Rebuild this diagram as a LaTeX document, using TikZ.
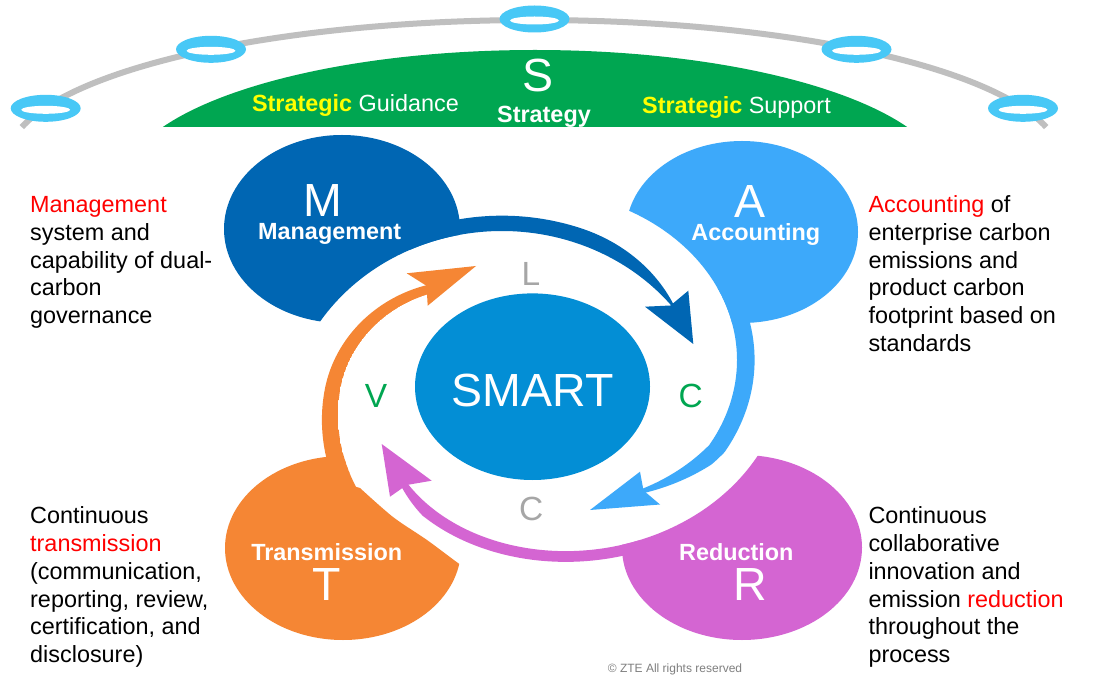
\documentclass[tikz,border=0pt]{standalone}
\usepackage{fontspec}
\setmainfont{Liberation Sans}
\definecolor{mblue}{HTML}{0066B3}
\definecolor{ablue}{HTML}{3DA9FA}
\definecolor{sblue}{HTML}{038ED5}
\definecolor{torange}{HTML}{F58634}
\definecolor{rpink}{HTML}{D465D2}
\definecolor{sgreen}{HTML}{00A651}
\definecolor{ringc}{HTML}{48C8F6}
\definecolor{arcgray}{HTML}{BFBFBF}
\definecolor{lgray}{HTML}{A6A6A6}
\definecolor{cgray}{HTML}{7F7F7F}
\definecolor{syellow}{HTML}{FFFF00}
\definecolor{tred}{HTML}{FF0000}
\begin{document}
\begin{tikzpicture}[x=1pt,y=-1pt,
  bigl/.style={text=white,inner sep=0,anchor=base,font=\fontsize{46.5}{50}\selectfont},
  boldl/.style={text=white,inner sep=0,anchor=base,font=\fontsize{23.4}{28}\selectfont\bfseries},
  midl/.style={inner sep=0,anchor=base,font=\fontsize{33.5}{36}\selectfont},
  para/.style={inner sep=0,anchor=base west,text=black},
  strat/.style={inner sep=0,anchor=base west,font=\fontsize{23.4}{28}\selectfont},
  declare function={
    wD(\t)=0.077*max(0,1-(max(0,\t-290)/34)^2);
    rhoA(\t)=1-0.07*max(0,(\t-30)/25);
    wA(\t)=0.085-0.065*max(0,(\t-35)/22);
    rhoP(\t)=0.853+0.00298*(137-\t);
    wP(\t)=0.068-0.038*max(0,(\t-125)/15);
    rhoO(\t)=1-0.112*(max(0,\t-188)/45)^2;
    wO(\t)=0.09-0.0005*(\t-167);
  },
]
\fill[white] (0,0) rectangle (1097,692);
\useasboundingbox (0,0) rectangle (1097,692);

% gray arc with rings
\draw[arcgray,line width=6] plot[domain=193.6:346.4,samples=150] ({534+527*cos(\x)},{160+140*sin(\x)});
\foreach \p/\q in {45.7/108.3, 211/49.3, 534.5/19, 856.5/49.3, 1023/108.3} {
  \fill[ringc] (\p,\q) ellipse [x radius=35, y radius=13.5];
  \fill[white] ({\p},{\q+1.5}) ellipse [x radius=24.5, y radius=4];
}

% green strategy dome
\begin{scope}
\clip (100,0) rectangle (1000,127);
\fill[sgreen] (535,185) ellipse [x radius=412, y radius=135];
\end{scope}
\node[bigl] (sletter) at (538,91.7) {S};
\node[boldl] (strategy) at (544,122.5) {Strategy};
\node[strat] (sguide) at (251.8,111.5) {\textcolor{syellow}{\bfseries Strategic} \textcolor{white}{Guidance}};
\node[strat] (ssupport) at (642,114) {\textcolor{syellow}{\bfseries Strategic} \textcolor{white}{Support}};

% M (dark blue): blob cut by ellipse centre (502,430), radii 217/199
\begin{scope}
\clip (200,100) -- (200,346) -- plot[domain=205:335,samples=80] ({502+217*cos(\x)},{430+199*sin(\x)}) -- (760,346) -- (760,100) -- cycle;
\fill[mblue] (342,229) ellipse [x radius=118, y radius=94];
\end{scope}
\fill[mblue] plot[domain=245:324,samples=80] ({502+217*(1+wD(\x))*cos(\x)},{430+199*(1+wD(\x))*sin(\x)})
  -- plot[domain=324:245,samples=80] ({502+217*cos(\x)},{430+199*sin(\x)}) -- cycle;

% A (light blue): spiral centre (530,360), radii 207/170
\begin{scope}
\clip (566,100) -- plot[domain=-80:70,samples=100] ({530+207*rhoA(\x)*cos(\x)},{360+170*rhoA(\x)*sin(\x)}) -- (593,540) -- (900,540) -- (900,100) -- cycle;
\fill[ablue] (742,232) ellipse [x radius=116, y radius=91];
\end{scope}
\fill[ablue] plot[domain=-25:57,samples=80] ({530+207*(rhoA(\x)+wA(\x))*cos(\x)},{360+170*(rhoA(\x)+wA(\x))*sin(\x)})
  -- plot[domain=57:-25,samples=80] ({530+207*rhoA(\x)*cos(\x)},{360+170*rhoA(\x)*sin(\x)}) -- cycle;

% R (pink): spiral centre (532,390), radii 200/160
\begin{scope}
\clip (900,424) -- plot[domain=10:145,samples=100] ({532+200*rhoP(\x)*cos(\x)},{390+160*rhoP(\x)*sin(\x)}) -- (370,466) -- (370,700) -- (900,700) -- cycle;
\fill[rpink] (742,547.5) ellipse [x radius=120, y radius=92.5];
\end{scope}
\fill[rpink] plot[domain=60:140,samples=80] ({532+200*(rhoP(\x)+wP(\x))*cos(\x)},{390+160*(rhoP(\x)+wP(\x))*sin(\x)})
  -- plot[domain=140:60,samples=80] ({532+200*rhoP(\x)*cos(\x)},{390+160*rhoP(\x)*sin(\x)}) -- cycle;

% T (orange): spiral centre (530,415), radii 192/170
\begin{scope}
\clip (490,700) -- plot[smooth] coordinates {(490,585) (458,563) (427,540) (393,517) (360,488)} -- plot[domain=155:245,samples=80] ({530+192*rhoO(\x)*cos(\x)},{415+170*rhoO(\x)*sin(\x)}) -- (470,240) -- (200,240) -- (200,700) -- cycle;
\fill[torange] (343,548) ellipse [x radius=118, y radius=92];
\fill[torange] plot[domain=160:238,samples=80] ({530+192*(rhoO(\x)+wO(\x))*cos(\x)},{415+170*(rhoO(\x)+wO(\x))*sin(\x)})
  -- plot[domain=238:160,samples=80] ({530+192*rhoO(\x)*cos(\x)},{415+170*rhoO(\x)*sin(\x)}) -- cycle;
\end{scope}

% arrow heads
\fill[mblue] (693.3,344) -- (645,306.7) -- (670.5,305.5) -- (688.3,290.7) -- cycle;
\fill[ablue] (590,510) -- (640,471.7) -- (643.5,490.5) -- (660,504.5) -- cycle;
\fill[rpink] (381.7,444) -- (431.7,480.7) -- (406.7,485) -- (390,496.7) -- cycle;
\fill[torange] (476,266) -- (406.7,273.3) -- (426.5,285.8) -- (427.7,305.7) -- cycle;

% centre
\fill[sblue] (532.5,386.7) ellipse [x radius=117.5, y radius=93.3];
\node[bigl] (smart) at (532.5,406.7) {SMART};
\node[midl,text=lgray] (lL) at (531,285.7) {L};
\node[midl,text=sgreen] (lCr) at (690.8,407.5) {C};
\node[midl,text=sgreen] (lV) at (376,407.3) {V};
\node[midl,text=lgray] (lCb) at (531.3,520) {C};

% blob labels
\node[bigl] (mM) at (323,216.8) {M};
\node[boldl] (mMan) at (329.7,239.5) {Management};
\node[bigl] (aA) at (750,217.5) {A};
\node[boldl] (aAcc) at (755.8,240.5) {Accounting};
\node[boldl] (tTra) at (326.7,560) {Transmission};
\node[bigl] (tT) at (327,600) {T};
\node[boldl] (rRed) at (736.3,560) {Reduction};
\node[bigl] (rR) at (750,600) {R};

% side texts
\node[para] (txtM) at (30,212.3) {\parbox[t]{250pt}{\fontsize{23.4}{27.9}\selectfont\raggedright \textcolor{tred}{Management}\\system and\\capability of dual-\\carbon\\governance}};
\node[para] (txtA) at (868.3,212.3) {\parbox[t]{228pt}{\fontsize{23.4}{27.9}\selectfont\raggedright \textcolor{tred}{Accounting} of\\enterprise carbon\\emissions and\\product carbon\\footprint based on\\standards}};
\node[para] (txtT) at (30,523.3) {\parbox[t]{250pt}{\fontsize{23.4}{27.9}\selectfont\raggedright Continuous\\\textcolor{tred}{transmission}\\(communication,\\reporting, review,\\certification, and\\disclosure)}};
\node[para] (txtR) at (868.3,523.3) {\parbox[t]{228pt}{\fontsize{23.4}{27.9}\selectfont\raggedright Continuous\\collaborative\\innovation and\\emission \textcolor{tred}{reduction}\\throughout the\\process}};

\node[inner sep=0,anchor=base,text=cgray,font=\fontsize{12}{14}\selectfont] (copy) at (675,672) {© ZTE All rights reserved};
\end{tikzpicture}
\end{document}
